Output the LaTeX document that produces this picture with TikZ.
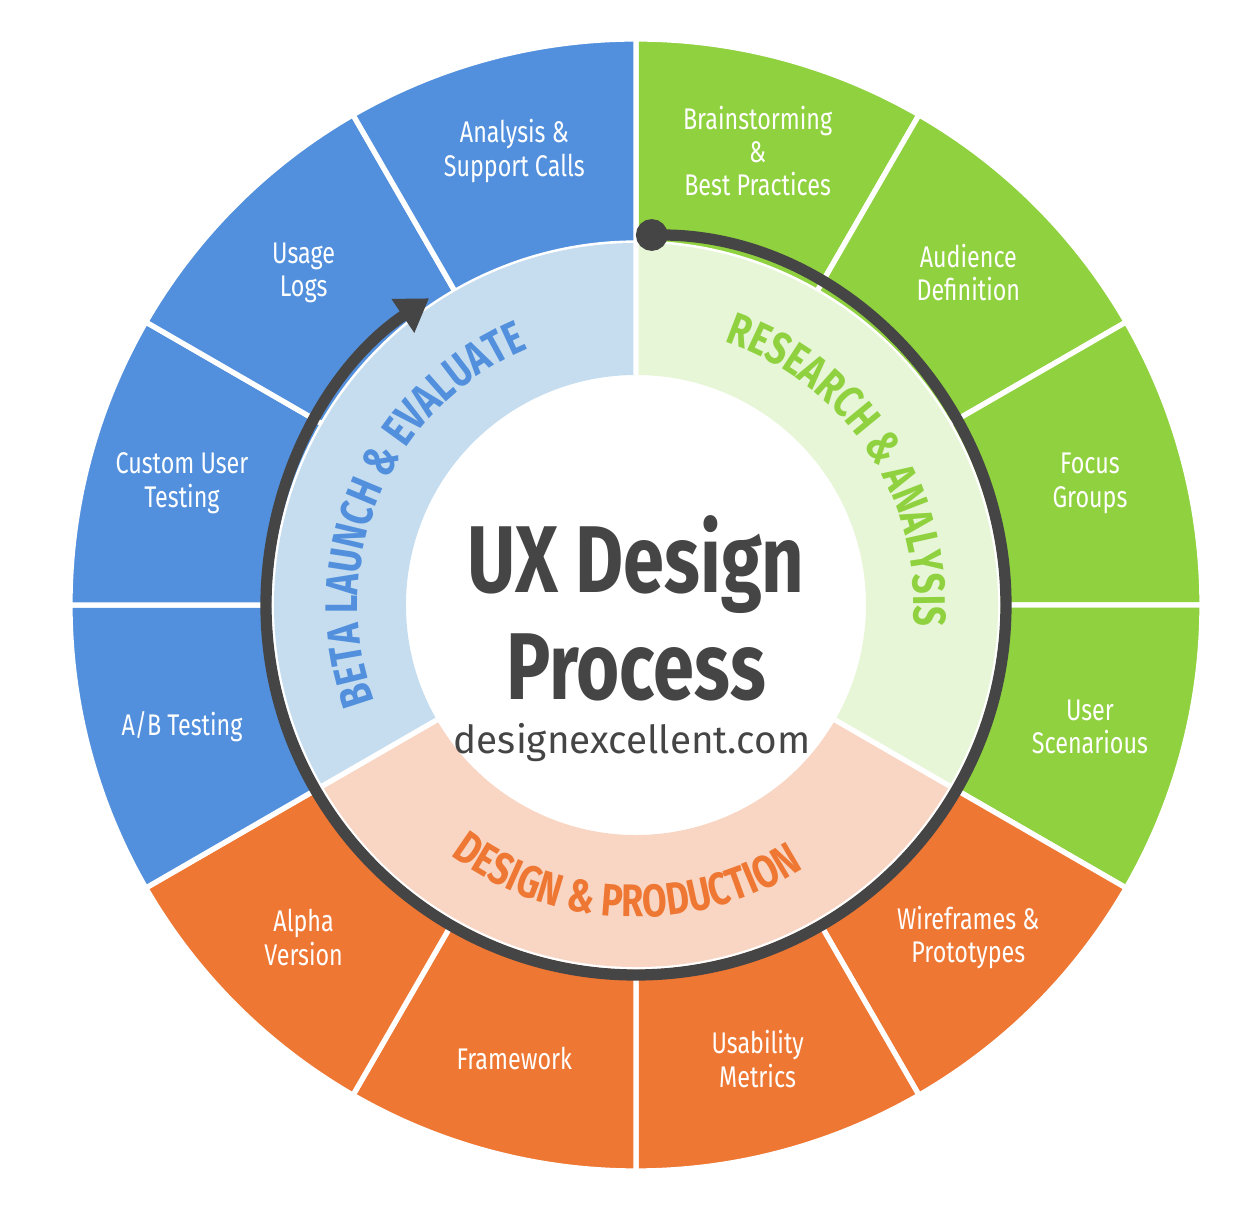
\documentclass[tikz,border=0pt]{standalone}
\usepackage{fontspec}
\setmainfont{Fira Sans}
\newfontfamily\condfont[FakeStretch=0.78]{Fira Sans}
\usetikzlibrary{arrows.meta,decorations.text}
\definecolor{B}{HTML}{5290DD}
\definecolor{G}{HTML}{8FD13F}
\definecolor{O}{HTML}{EE7733}
\definecolor{lB}{HTML}{C5DDEF}
\definecolor{lG}{HTML}{E6F6D6}
\definecolor{lO}{HTML}{F9D6C3}
\definecolor{ring}{HTML}{454545}
\tikzset{
  seglabel/.style={text=white, align=center, font=\fontsize{8.5}{9.5}\selectfont\condfont},
  arclabel/.style 2 args={decorate, decoration={text along path, text align=center,
      text={|\fontsize{13}{12}\bfseries\condfont\color{#1}|#2}}},
}
\begin{document}
\begin{tikzpicture}
  \useasboundingbox (-6.36,-6.13) rectangle (6.24,6.05);
  % outer segments
  \foreach \a/\c in {90/G,60/G,30/G,0/G,-30/O,-60/O,-90/O,-120/O,-150/B,-180/B,150/B,120/B}
    \fill[\c, draw=white, line width=1.5pt] (\a:3.62) arc (\a:\a-30:3.62)
      -- (\a-30:5.66) arc (\a-30:\a:5.66) -- cycle;
  % inner ring
  \fill[lG] (90:2.3) arc (90:-30:2.3) -- (-30:3.62) arc (-30:90:3.62) -- cycle;
  \fill[lO] (-30:2.3) arc (-30:-150:2.3) -- (-150:3.62) arc (-150:-30:3.62) -- cycle;
  \fill[lB] (-150:2.3) arc (-150:-270:2.3) -- (90:3.62) arc (90:210:3.62) -- cycle;
  \draw[white, line width=1.5pt] (90:2.3) -- (90:3.62) (-30:2.3) -- (-30:3.62) (-150:2.3) -- (-150:3.62);
  % cycle arrow
  \draw[ring, line width=3.2pt, {Circle[length=9pt]}-{Triangle[length=9pt,width=11pt]}]
    (90:3.7) arc (90:-236:3.7);
  % labels of the outer ring
  \node at (75:4.7) (brain) [seglabel] {Brainstorming\\\&\\Best Practices};
  \node at (45:4.7) (aud) [seglabel] {Audience\\Definition};
  \node at (15:4.7) (focus) [seglabel] {Focus\\Groups};
  \node at (-15:4.7) (scen) [seglabel] {User\\Scenarious};
  \node at (-45:4.7) (wire) [seglabel] {Wireframes \&\\Prototypes};
  \node at (-75:4.7) (usab) [seglabel] {Usability\\Metrics};
  \node at (-105:4.7) (frame) [seglabel] {Framework};
  \node at (-135:4.7) (alpha) [seglabel] {Alpha\\Version};
  \node at (-165:4.7) (ab) [seglabel] {A/B Testing};
  \node at (165:4.7) (custom) [seglabel] {Custom User\\Testing};
  \node at (135:4.7) (usage) [seglabel] {Usage\\Logs};
  \node at (105:4.7) (anal) [seglabel] {Analysis \&\\Support Calls};
  % phase names
  \path[arclabel={G}{RESEARCH {\&} ANALYSIS}] (75:2.78) arc (75:-8:2.78);
  \path[arclabel={O}{DESIGN {\&} PRODUCTION}] (-132:3.12) arc (-132:-52:3.12);
  \path[arclabel={B}{BETA LAUNCH {\&} EVALUATE}] (205:2.78) arc (205:108:2.78);
  % centre
  \node at (0,0.4) (ux) [text=ring, font=\fontsize{27}{27}\bfseries\condfont] {UX Design};
  \node at (0,-0.62) (proc) [text=ring, font=\fontsize{27}{27}\bfseries\condfont] {Process};
  \node at (-0.04,-1.38) (web) [text=ring, font=\fontsize{11}{11}\selectfont] {designexcellent.com};
\end{tikzpicture}
\end{document}
